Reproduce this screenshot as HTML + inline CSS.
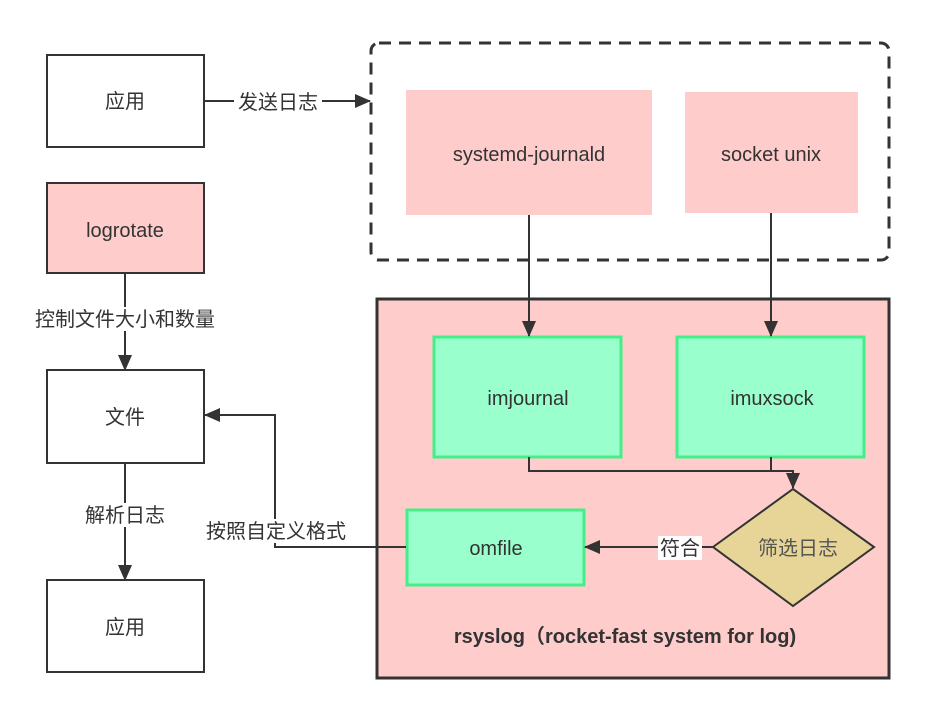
<!DOCTYPE html>
<html><head><meta charset="utf-8"><style>
html,body{margin:0;padding:0;background:#fff}
svg{display:block}
text{font-family:"Liberation Sans","Noto Sans CJK SC",sans-serif;fill:#333;font-size:20px}
</style></head><body>
<svg width="932" height="720" viewBox="0 0 932 720">
<defs>
<marker id="b" markerWidth="16" markerHeight="14" refX="15" refY="7" orient="auto" markerUnits="userSpaceOnUse"><path d="M0,0 L16,7 L0,14 Z" fill="#333"/></marker></defs>
<rect width="932" height="720" fill="#fff"/>
<rect x="47" y="55" width="157" height="92" fill="#fff" stroke="#333" stroke-width="2"/>
<text x="125" y="108" text-anchor="middle">应用</text>
<rect x="47" y="183" width="157" height="90" fill="#ffcccc" stroke="#333" stroke-width="2"/>
<text x="125" y="237" text-anchor="middle">logrotate</text>
<rect x="47" y="370" width="157" height="93" fill="#fff" stroke="#333" stroke-width="2"/>
<text x="125" y="424" text-anchor="middle">文件</text>
<rect x="47" y="580" width="157" height="92" fill="#fff" stroke="#333" stroke-width="2"/>
<text x="125" y="634" text-anchor="middle">应用</text>
<rect x="371" y="43" width="518" height="217" rx="8" fill="#fff" stroke="#333" stroke-width="3" stroke-dasharray="12,8"/>
<rect x="406" y="90" width="246" height="125" fill="#ffcccc"/>
<text x="529" y="161" text-anchor="middle">systemd-journald</text>
<rect x="685" y="92" width="173" height="121" fill="#ffcccc"/>
<text x="771" y="161" text-anchor="middle">socket unix</text>
<rect x="377" y="299" width="512" height="379" fill="#ffcccc" stroke="#333" stroke-width="3"/>
<rect x="434" y="337" width="187" height="120" fill="#99ffcc" stroke="#44ee88" stroke-width="3"/>
<text x="528" y="405" text-anchor="middle">imjournal</text>
<rect x="677" y="337" width="187" height="120" fill="#99ffcc" stroke="#44ee88" stroke-width="3"/>
<text x="772" y="405" text-anchor="middle">imuxsock</text>
<rect x="407" y="510" width="177" height="75" fill="#99ffcc" stroke="#44ee88" stroke-width="3"/>
<text x="496" y="555" text-anchor="middle">omfile</text>
<polygon points="713,547 793,489 874,547 793,606" fill="#e6d596" stroke="#333" stroke-width="2"/>
<text x="798" y="555" text-anchor="middle" style="fill:#555">筛选日志</text>
<text x="625" y="643" text-anchor="middle" style="font-weight:bold">rsyslog（rocket-fast system for log)</text>
<g stroke="#333" stroke-width="2" fill="none">
<path d="M204,101 H370" marker-end="url(#b)"/>
<path d="M529,215 V336" marker-end="url(#b)"/>
<path d="M771,213 V336" marker-end="url(#b)"/>
<path d="M529,457 V471 H793 V488" marker-end="url(#b)"/>
<path d="M771,457 V471"/>
<path d="M713,547 H585" marker-end="url(#b)"/>
<path d="M406,547 H275 V415 H205" marker-end="url(#b)"/>
<path d="M125,273 V370" marker-end="url(#b)"/>
<path d="M125,463 V580" marker-end="url(#b)"/>
</g>
<rect x="234" y="90" width="88" height="24" fill="#fff"/>
<text x="278" y="109" text-anchor="middle">发送日志</text>
<rect x="24" y="307" width="202" height="24" fill="#fff"/>
<text x="125" y="326" text-anchor="middle">控制文件大小和数量</text>
<rect x="80" y="503" width="90" height="24" fill="#fff"/>
<text x="125" y="522" text-anchor="middle">解析日志</text>
<rect x="198" y="519" width="156" height="24" fill="#fff"/>
<text x="276" y="538" text-anchor="middle">按照自定义格式</text>
<rect x="658" y="536" width="44" height="24" fill="#fff"/>
<text x="680" y="555" text-anchor="middle">符合</text>
</svg>
</body></html>
